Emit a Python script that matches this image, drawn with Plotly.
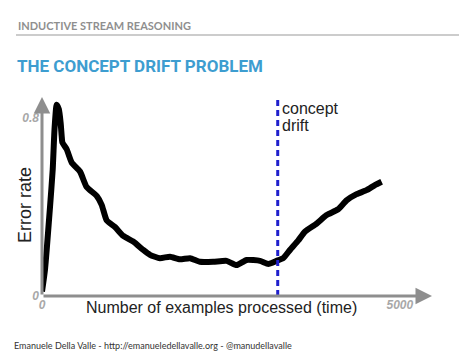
import plotly.graph_objects as go

# ---- data ----
examples = [0, 42, 112, 150, 175, 205, 235, 260, 275, 285, 345, 415, 531, 624, 764, 834, 904,
            1020, 1136, 1275, 1415, 1509, 1648, 1788, 1928, 2068, 2207, 2393, 2580, 2720,
            2860, 3046, 3162, 3279, 3371, 3465, 3581, 3674, 3838, 3977, 4139, 4256, 4396,
            4536, 4652, 4746]
error_rate = [0.02, 0.12, 0.40, 0.57, 0.75, 0.86, 0.84, 0.78, 0.72, 0.69, 0.66, 0.60, 0.56,
              0.49, 0.45, 0.41, 0.34, 0.31, 0.27, 0.245, 0.207, 0.185, 0.17, 0.177, 0.165,
              0.17, 0.154, 0.154, 0.158, 0.139, 0.162, 0.158, 0.144, 0.158, 0.17, 0.207,
              0.25, 0.289, 0.326, 0.364, 0.39, 0.43, 0.458, 0.476, 0.499, 0.514]
drift_at = 3294
x_tick_vals = [0, 5000]
x_tick_text = ["0", "5000"]
y_tick_vals = [0, 0.8]
y_tick_text = ["0", "0.8"]
x_max = 5450
y_max = 0.895

W, H = 474, 355
L, R, T, B = 42, 42, 97, 59
PW, PH = W - L - R, H - T - B

def px(xp):
    return (xp - L) / PW

def py(yp):
    return (H - B - yp) / PH

fig = go.Figure()
fig.add_trace(go.Scatter(
    x=examples, y=error_rate, mode="lines",
    line=dict(color="#000000", width=6, shape="spline", smoothing=0.5),
    hoverinfo="skip", showlegend=False, cliponaxis=False))

gray = "#8e8e8e"
fig.add_shape(type="line", xref="x", yref="y", x0=drift_at, x1=drift_at, y0=0, y1=y_max,
              line=dict(color="#1f1fcc", width=3, dash="6px,4px"))
# header rule
fig.add_shape(type="line", xref="paper", yref="paper", x0=px(16), x1=px(459),
              y0=py(35), y1=py(35), line=dict(color="#cccccc", width=2))

annotations = [
    # axes with arrow heads
    dict(x=x_max, y=0, ax=0, ay=0, xref="x", yref="y", axref="x", ayref="y", text="",
         showarrow=True, arrowhead=2, arrowsize=1.1, arrowwidth=3, arrowcolor=gray),
    dict(x=0, y=y_max, ax=0, ay=0, xref="x", yref="y", axref="x", ayref="y", text="",
         showarrow=True, arrowhead=2, arrowsize=1.1, arrowwidth=3, arrowcolor=gray),
    dict(x=drift_at + 32, y=0.845, xref="x", yref="y", text="concept", showarrow=False,
         xanchor="left", yanchor="middle",
         font=dict(family="Liberation Sans, Arial", size=16, color="#222222")),
    dict(x=drift_at + 32, y=0.768, xref="x", yref="y", text="drift", showarrow=False,
         xanchor="left", yanchor="middle",
         font=dict(family="Liberation Sans, Arial", size=16, color="#222222")),
    dict(x=px(25), y=py(205), xref="paper", yref="paper", text="Error rate", textangle=-90,
         showarrow=False, xanchor="center", yanchor="middle",
         font=dict(family="Liberation Sans, Arial", size=18, color="#222222")),
    dict(x=px(221), y=py(307), xref="paper", yref="paper",
         text="Number of examples processed (time)", showarrow=False,
         xanchor="center", yanchor="middle",
         font=dict(family="Liberation Sans, Arial", size=16, color="#222222")),
    dict(x=px(16), y=py(25), xref="paper", yref="paper", text="INDUCTIVE STREAM REASONING",
         showarrow=False, xanchor="left", yanchor="middle",
         font=dict(family="Lato", size=11, color="#8f8f8f", weight="bold")),
    dict(x=px(15), y=py(66), xref="paper", yref="paper", text="THE CONCEPT DRIFT PROBLEM",
         showarrow=False, xanchor="left", yanchor="middle",
         font=dict(family="Roboto", size=17, color="#3d9dd0", weight="bold")),
    dict(x=px(12), y=py(345), xref="paper", yref="paper",
         text="Emanuele Della Valle - http://emanueledellavalle.org - @manudellavalle",
         showarrow=False, xanchor="left", yanchor="middle",
         font=dict(family="Lato", size=9, color="#333333")),
]

tickfont = dict(family="Liberation Sans, Arial", size=12, color="#a8a8a8",
                style="italic", weight="bold")
fig.update_layout(
    width=W, height=H, margin=dict(l=L, r=R, t=T, b=B),
    paper_bgcolor="white", plot_bgcolor="white",
    xaxis=dict(range=[0, x_max], showgrid=False, zeroline=False, showline=False,
               tickvals=x_tick_vals, ticktext=x_tick_text, ticks="", tickfont=tickfont,
               fixedrange=True),
    yaxis=dict(range=[0, y_max], showgrid=False, zeroline=False, showline=False,
               tickvals=y_tick_vals, ticktext=y_tick_text, ticks="", tickfont=tickfont,
               ticklabelstandoff=2, fixedrange=True),
    annotations=annotations,
)
fig.write_html("out.html", config={"displayModeBar": False, "staticPlot": True},
               post_script="document.body.style.margin='0';document.body.style.overflow='hidden';")
